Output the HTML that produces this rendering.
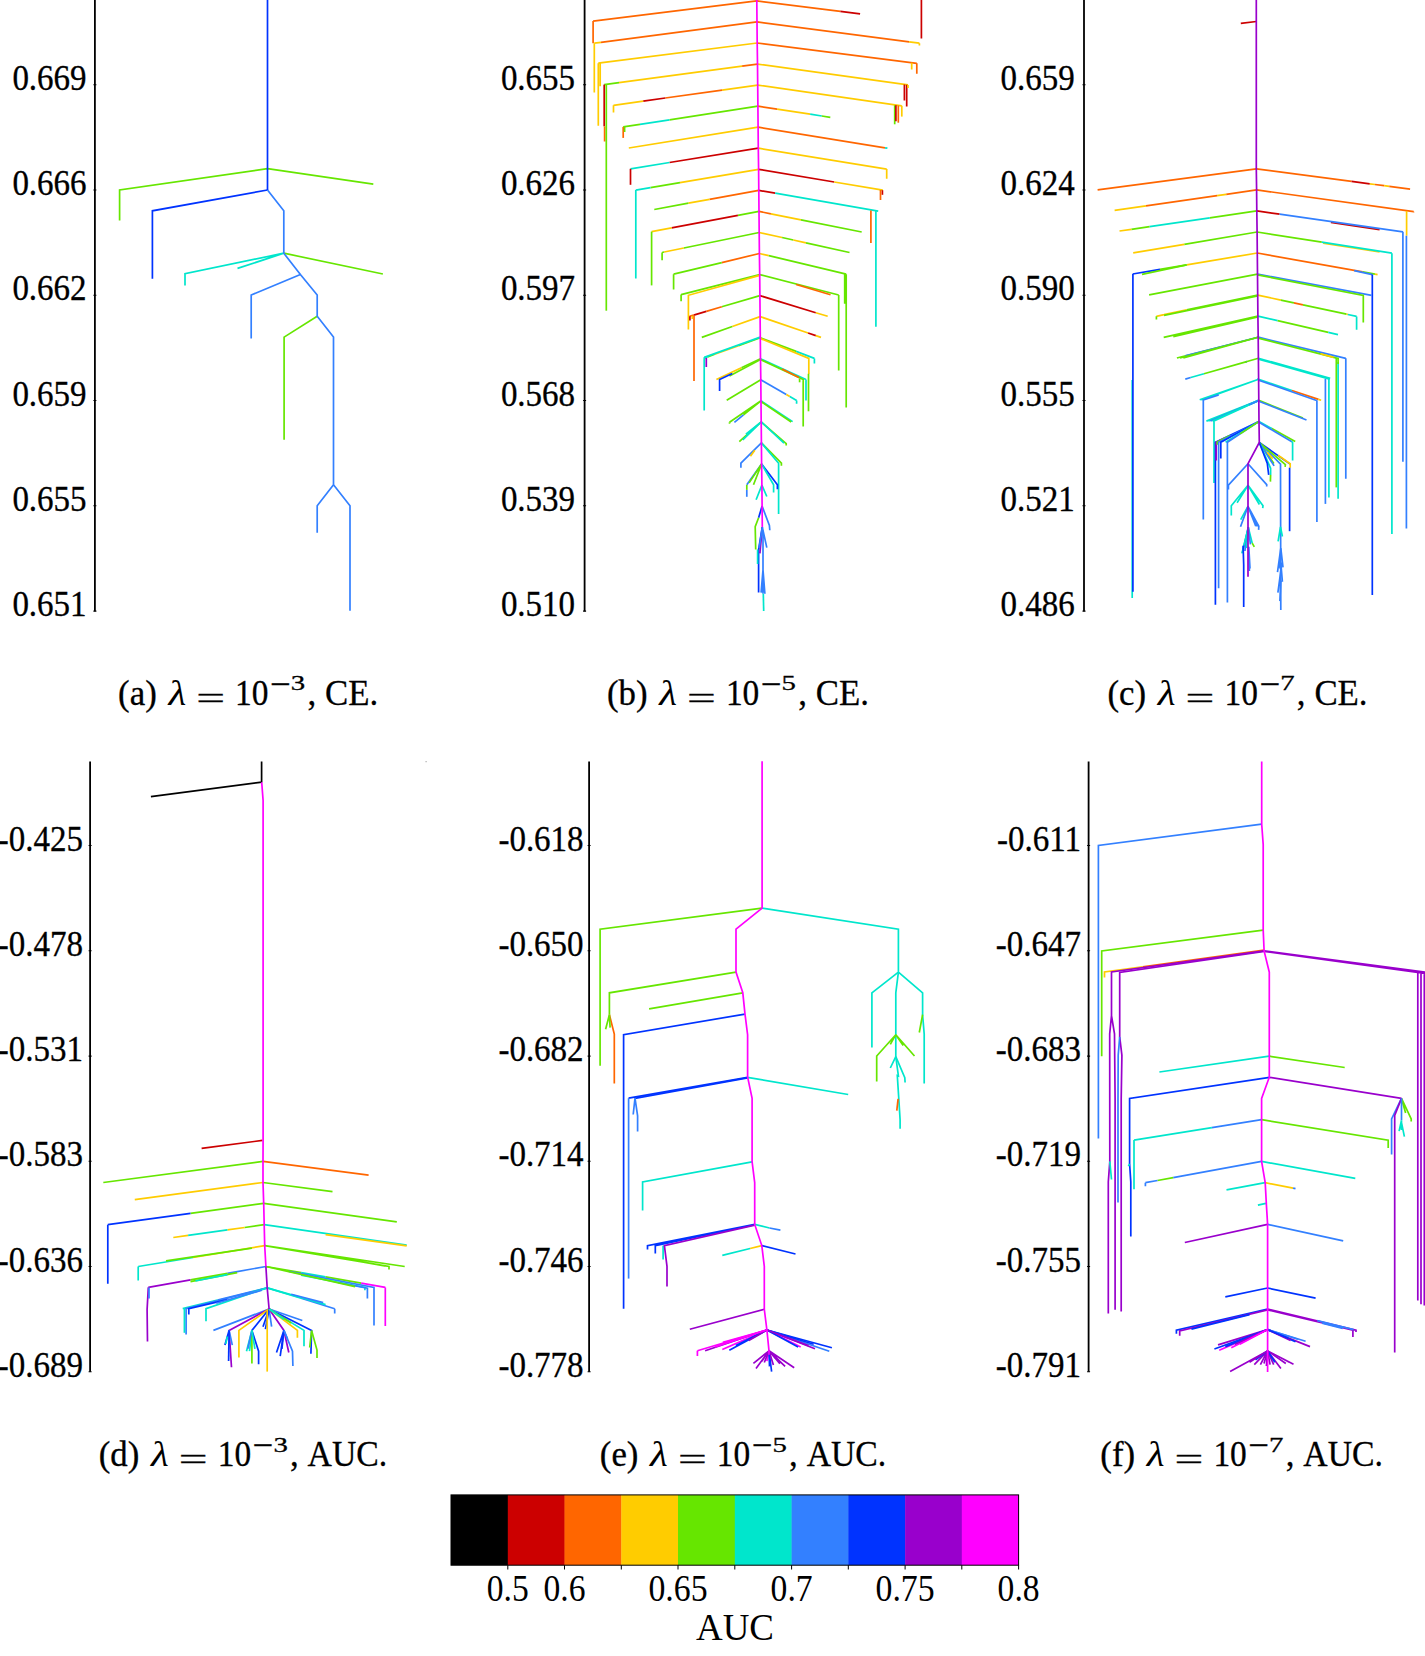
<!DOCTYPE html>
<html lang="en"><head><meta charset="utf-8"><title>Merge trees: CE and AUC</title>
<style>
html,body{margin:0;padding:0;background:#fff}
body{width:1425px;height:1656px;overflow:hidden;font-family:"Liberation Serif",serif}
svg{display:block}
text{font-family:"Liberation Serif",serif;fill:#000}
.t{font-size:33px;stroke:#000;stroke-width:.3px}
.u{font-size:34.8px;stroke:#000;stroke-width:.3px}
.it{font-style:italic}
</style></head><body>
<svg width="1425" height="1656" viewBox="0 0 1425 1656">
<rect width="1425" height="1656" fill="#fff"/>
<g fill="none" stroke-width="1.7" stroke-linejoin="miter" stroke-linecap="butt">
<path stroke="#66e600" d="M267.5 168.7 L119.6 190 L119.6 220.6M267.5 168.7 L373.3 184.1"/>
<path stroke="#0033ff" d="M267.5 190 L152.4 210.8 L152.4 278.7"/>
<path stroke="#00e6cc" d="M283.8 253.2 L185 273.7 L185 285.5M283.8 253.2 L237.5 268.4"/>
<path stroke="#66e600" d="M283.8 253.2 L382.9 274"/>
<path stroke="#3380ff" d="M300.4 274.5 L251.2 295 L251.2 338.5"/>
<path stroke="#66e600" d="M317.2 316.3 L284.1 337.1 L284.1 439.8"/>
<path stroke="#3380ff" d="M333.5 484.7 L317.2 505.8 L317.2 532.7M267.5 190 L283.8 210.8 L283.8 253.2 L300.4 274.5 L317.2 295 L317.2 316.3 L333.5 337.1 L333.5 484.7 L350 505.8 L350 610.7"/>
<path stroke="#0033ff" d="M267.5 0 L267.5 190"/>
<path stroke="#ff6600" d="M756.8 0.9 L593.1 21.1M593.1 21.1 L593.1 43.2M757 21.9 L601 42.3"/>
<path stroke="#ffcc00" d="M601 42.3 L594.3 43.2M594.3 43.2 L594.3 92.6M757.2 43 L598.3 63.2M598.3 63.2 L598.3 125.7M600.2 63.4 L600.2 86.3"/>
<path stroke="#ff6600" d="M757.5 64.1 L742.1 66.1"/>
<path stroke="#ffcc00" d="M742.1 66.1 L619 82.6"/>
<path stroke="#66e600" d="M619 82.6 L604.2 84.6"/>
<path stroke="#cc0000" d="M604.2 84.6 L604.2 126.3"/>
<path stroke="#ff6600" d="M604.6 126.3 L604.6 141.5"/>
<path stroke="#66e600" d="M606.3 84.8 L606.3 310.7"/>
<path stroke="#ffcc00" d="M757.7 85.1 L722.1 90.1"/>
<path stroke="#ff6600" d="M722.1 90.1 L665.3 98"/>
<path stroke="#cc0000" d="M665.3 98 L643.2 101.1"/>
<path stroke="#ffcc00" d="M643.2 101.1 L613.5 105.3M613.5 105.3 L613.5 112.6"/>
<path stroke="#66e600" d="M757.9 106.2 L669.5 119.8"/>
<path stroke="#00e6cc" d="M669.5 119.8 L640 124.3"/>
<path stroke="#66e600" d="M640 124.3 L623.2 126.9"/>
<path stroke="#ff6600" d="M623.2 126.9 L623.2 137.9"/>
<path stroke="#66e600" d="M624.6 126.9 L624.6 132"/>
<path stroke="#ffcc00" d="M758.1 127.2 L628.8 148"/>
<path stroke="#cc0000" d="M758.3 148.2 L669.5 162.5"/>
<path stroke="#00e6cc" d="M669.5 162.5 L630.5 168.8"/>
<path stroke="#cc0000" d="M630.5 168.8 L630.5 184.8"/>
<path stroke="#ffcc00" d="M758.6 169.3 L680 182.6"/>
<path stroke="#66e600" d="M680 182.6 L650.5 187.6"/>
<path stroke="#00e6cc" d="M650.5 187.6 L635.8 190.1M635.8 190.1 L635.8 278.4"/>
<path stroke="#ff6600" d="M758.8 190.4 L709.5 199.4"/>
<path stroke="#ffcc00" d="M709.5 199.4 L688.4 203.2"/>
<path stroke="#66e600" d="M688.4 203.2 L654.3 209.5M759 211.4 L737.9 215.4"/>
<path stroke="#cc0000" d="M737.9 215.4 L671.6 227.8"/>
<path stroke="#ffcc00" d="M671.6 227.8 L651.6 231.6"/>
<path stroke="#66e600" d="M651.6 231.6 L651.6 285.4"/>
<path stroke="#ff6600" d="M756.8 0.9 L840.4 11.4"/>
<path stroke="#cc0000" d="M840.4 11.4 L860.1 13.9M921.4 0 L921.4 38.6"/>
<path stroke="#ff6600" d="M757 21.9 L909.1 41.9"/>
<path stroke="#ffcc00" d="M909.1 41.9 L919.4 43.2M919.4 43.2 L919.4 45.6"/>
<path stroke="#ff6600" d="M757.2 43 L916.8 63.3M916.8 63.3 L916.8 73.8"/>
<path stroke="#ffcc00" d="M911.7 62.8 L911.7 69.5M757.5 64.1 L908 84.9"/>
<path stroke="#cc0000" d="M904.4 84.6 L904.4 100.4M906.7 84.8 L906.7 106.5"/>
<path stroke="#ffcc00" d="M908 84.9 L908 88M757.7 85.1 L901.8 105.8"/>
<path stroke="#66e600" d="M894.7 105.2 L894.7 124.3"/>
<path stroke="#cc0000" d="M895.9 105.3 L895.9 121.2"/>
<path stroke="#ff6600" d="M898.3 105.5 L898.3 122.7"/>
<path stroke="#ffcc00" d="M901.8 105.8 L901.8 116.6"/>
<path stroke="#ff6600" d="M757.9 106.2 L777.1 109.1"/>
<path stroke="#ffcc00" d="M777.1 109.1 L810.2 114.2"/>
<path stroke="#00e6cc" d="M810.2 114.2 L821.8 116"/>
<path stroke="#66e600" d="M821.8 116 L830.3 117.3"/>
<path stroke="#ff6600" d="M758.1 127.2 L885 147.8"/>
<path stroke="#00e6cc" d="M885 147.8 L887.4 148.2"/>
<path stroke="#ffcc00" d="M758.3 148.2 L886.7 169.1M886.7 169.1 L886.7 178.8"/>
<path stroke="#cc0000" d="M758.6 169.3 L834.2 182"/>
<path stroke="#ffcc00" d="M834.2 182 L882.8 190.2"/>
<path stroke="#cc0000" d="M882.4 190.2 L882.4 194.8"/>
<path stroke="#ff6600" d="M880.5 190 L880.5 200"/>
<path stroke="#cc0000" d="M758.8 190.4 L775.2 193.2"/>
<path stroke="#00e6cc" d="M775.2 193.2 L878.2 211.2"/>
<path stroke="#ff6600" d="M870.9 210.5 L870.9 242.9"/>
<path stroke="#00e6cc" d="M875.9 211 L875.9 326.8"/>
<path stroke="#ff6600" d="M759 211.4 L770.9 213.8"/>
<path stroke="#ffcc00" d="M770.9 213.8 L801 219.8"/>
<path stroke="#66e600" d="M801 219.8 L861.7 232M759.2 232.5 L683.9 248"/>
<path stroke="#ffcc00" d="M683.9 248 L664.2 252"/>
<path stroke="#66e600" d="M664.2 252 L662.1 252.5M662.1 252.5 L662.1 260.2"/>
<path stroke="#ff6600" d="M759.4 253.5 L721.8 262.6"/>
<path stroke="#66e600" d="M721.8 262.6 L673.6 274.2M673.6 274.2 L673.6 289.6M759.7 274.6 L681.1 294.6M681.1 294.6 L681.1 301.3"/>
<path stroke="#ffcc00" d="M759.7 275.4 L688.4 295.3 L688.4 329.6"/>
<path stroke="#66e600" d="M759.9 295.6 L721.8 306.8"/>
<path stroke="#ff6600" d="M721.8 306.8 L706.3 311.4"/>
<path stroke="#cc0000" d="M706.3 311.4 L693.7 315.1"/>
<path stroke="#ff6600" d="M693.7 315.1 L689.5 316.3"/>
<path stroke="#cc0000" d="M689.9 316.3 L689.9 320.5"/>
<path stroke="#ff6600" d="M694 315.6 L694 380.9"/>
<path stroke="#ffcc00" d="M692.3 315.8 L692.3 319M760.1 316.6 L732.3 326.5"/>
<path stroke="#66e600" d="M732.3 326.5 L701.8 337.4M760.3 337.7 L738.6 345.6"/>
<path stroke="#ffcc00" d="M738.6 345.6 L714.7 354.3"/>
<path stroke="#66e600" d="M714.7 354.3 L707.7 356.9"/>
<path stroke="#00e6cc" d="M707.7 356.9 L703.5 358.4M760.3 337.1 L704.2 357.4M704.2 358.4 L704.2 410.4"/>
<path stroke="#9900cc" d="M706.3 358 L706.3 367"/>
<path stroke="#66e600" d="M760.5 358.8 L741.4 367.7"/>
<path stroke="#ffcc00" d="M741.4 367.7 L732.3 372M732.3 372 L716.4 379.5"/>
<path stroke="#66e600" d="M760.5 359.6 L729.5 376"/>
<path stroke="#0033ff" d="M732.3 373.4 L719.6 379.5 L719.6 391.1"/>
<path stroke="#66e600" d="M760.8 379.8 L726.7 400.2M761 400.8 L729.5 422.3M761 400.8 L743.5 414.9"/>
<path stroke="#3380ff" d="M743.5 414.9 L734.4 422.3"/>
<path stroke="#66e600" d="M729.5 422.3 L729.5 423.7"/>
<path stroke="#ffcc00" d="M759.2 232.5 L782.1 237.5"/>
<path stroke="#66e600" d="M782.1 237.5 L793.3 240"/>
<path stroke="#ffcc00" d="M793.3 240 L806 242.8"/>
<path stroke="#66e600" d="M806 242.8 L849.5 252.5"/>
<path stroke="#ffcc00" d="M759.4 253.5 L768.8 255.7"/>
<path stroke="#66e600" d="M768.8 255.7 L846.2 274.2M846.2 274.2 L846.2 407.5M844.7 273.8 L844.7 303.7M759.7 274.6 L838.7 295M838.7 295 L838.7 370.6"/>
<path stroke="#ff6600" d="M796.1 284.5 L830.5 294.8"/>
<path stroke="#cc0000" d="M759.9 295.6 L815.8 312.7"/>
<path stroke="#ffcc00" d="M815.8 312.7 L827.7 316.3M760.1 316.6 L808.1 333"/>
<path stroke="#cc0000" d="M808.1 333 L815.8 335.6"/>
<path stroke="#ffcc00" d="M815.8 335.6 L821 337.4"/>
<path stroke="#66e600" d="M760.3 337.7 L796.1 351.4"/>
<path stroke="#00e6cc" d="M796.1 351.4 L814.4 358.4M814.4 358.4 L814.4 363.4"/>
<path stroke="#ffcc00" d="M760.3 338.5 L808.8 358.4 L808.8 373.9"/>
<path stroke="#66e600" d="M808.5 373.8 L808.5 411.3"/>
<path stroke="#00e6cc" d="M760.5 358.8 L806 379.5M806 379.5 L806 400.5"/>
<path stroke="#66e600" d="M760.5 359.6 L803.2 379.5 L803.2 426.5"/>
<path stroke="#ff6600" d="M782.1 368.9 L798.9 377.4"/>
<path stroke="#66e600" d="M799.6 378.6 L799.6 382.3"/>
<path stroke="#3380ff" d="M760.8 379.8 L786.3 394.6"/>
<path stroke="#ffcc00" d="M786.3 394.6 L789.8 396.6"/>
<path stroke="#00e6cc" d="M789.8 396.6 L796.6 400.5M796.6 400.5 L796.6 403.8M761 400.8 L792.6 421.6"/>
<path stroke="#66e600" d="M761 401.6 L791.2 422M761.2 421.9 L739.3 441.7"/>
<path stroke="#00e6cc" d="M761.2 421.9 L745.9 434.1M761.2 421.9 L742.8 439.8"/>
<path stroke="#66e600" d="M761.2 421.9 L786.2 443.6 L786.2 445.5"/>
<path stroke="#00e6cc" d="M761.2 421.9 L784 443.2"/>
<path stroke="#3380ff" d="M761.4 442.9 L740.9 463.2 L740.9 467.7"/>
<path stroke="#ffcc00" d="M754.8 450.3 L750.4 456.3"/>
<path stroke="#66e600" d="M761.4 442.9 L781.4 463.2 L781.4 465.8"/>
<path stroke="#00e6cc" d="M761.4 442.9 L778.6 463.2 L778.6 514"/>
<path stroke="#3380ff" d="M761.6 464 L746.8 484.8"/>
<path stroke="#66e600" d="M746.8 484.8 L746.8 489.9"/>
<path stroke="#3380ff" d="M746.8 489.9 L746.8 496.8"/>
<path stroke="#66e600" d="M761.6 464 L753.5 484.8M761.6 464 L749.1 482.9"/>
<path stroke="#0033ff" d="M761.6 464 L777.4 484.8 L777.4 489.2"/>
<path stroke="#00e6cc" d="M761.6 464 L773.6 484.8 L773.6 492.4M761.9 485.1 L756.1 499.8M761.9 485.1 L766.8 496.5"/>
<path stroke="#0033ff" d="M762.1 506.1 L758.6 517.8"/>
<path stroke="#66e600" d="M758.6 517.8 L755.2 526.6 L755.7 549.5"/>
<path stroke="#3380ff" d="M762.1 506.1 L769.4 525.4 L769.8 530.2"/>
<path stroke="#0033ff" d="M762.3 527.1 L758.6 549.5 L758.6 592.6"/>
<path stroke="#00e6cc" d="M757.6 549.5 L757.6 564"/>
<path stroke="#9900cc" d="M762.3 527.1 L759.9 553.3"/>
<path stroke="#3380ff" d="M762.3 527.1 L766.8 547.6M762.3 527.1 L759.2 548.2M763 569.7 L761.1 592.6M763 569.7 L764.9 593.8M763 569.7 L762.4 592.6M762.3 527.1 L763 536.8 L763 593.8"/>
<path stroke="#00e6cc" d="M763.3 593.8 L763.7 611"/>
<path stroke="#ff00ff" d="M756.8 0.9 L757 21.9 L757.2 43 L757.5 64.1 L757.7 85.1 L757.9 106.2 L758.1 127.2 L758.3 148.2 L758.6 169.3 L758.8 190.4 L759 211.4 L759.2 232.5 L759.4 253.5 L759.7 274.6 L759.9 295.6 L760.1 316.6 L760.3 337.7 L760.5 358.8 L760.8 379.8 L761 400.8 L761.2 421.9 L761.4 442.9 L761.6 464 L761.9 485.1 L762.1 506.1 L762.3 527.1M756.8 0 L756.8 1"/>
<path stroke="#cc0000" d="M1256.3 21.5 L1240.8 23.4"/>
<path stroke="#ff6600" d="M1256.4 168.8 L1097.6 189.8M1256.6 189.9 L1226.2 194.3"/>
<path stroke="#ffcc00" d="M1226.2 194.3 L1217.1 195.6"/>
<path stroke="#ff6600" d="M1217.1 195.6 L1146 205.9"/>
<path stroke="#ffcc00" d="M1146 205.9 L1114.6 210.4"/>
<path stroke="#66e600" d="M1256.8 210.9 L1209.8 217.8"/>
<path stroke="#00e6cc" d="M1209.8 217.8 L1149.6 226.6"/>
<path stroke="#66e600" d="M1149.6 226.6 L1131.4 229.3"/>
<path stroke="#ffcc00" d="M1131.4 229.3 L1119.5 231"/>
<path stroke="#66e600" d="M1257.1 232 L1184.3 244.3"/>
<path stroke="#ffcc00" d="M1184.3 244.3 L1133.2 252.9M1257.3 253 L1186.7 264.9"/>
<path stroke="#66e600" d="M1186.7 264.9 L1160 269.4"/>
<path stroke="#0033ff" d="M1160 269.4 L1132.7 274"/>
<path stroke="#66e600" d="M1186.7 264.9 L1142 274.4"/>
<path stroke="#00e6cc" d="M1132.2 380 L1132.2 598"/>
<path stroke="#0033ff" d="M1132.9 274 L1132.9 591.7"/>
<path stroke="#66e600" d="M1257.5 274.1 L1149.1 294.9M1257.7 295.1 L1186.7 309.9"/>
<path stroke="#ffcc00" d="M1186.7 309.9 L1164 314.7M1164 314.7 L1156.4 316.3"/>
<path stroke="#66e600" d="M1257.7 295.9 L1164 315.3M1156.4 316.3 L1156.4 319.4M1257.9 316.1 L1163.7 337.3M1257.9 316.9 L1173.3 336.7M1258.2 337.2 L1176.9 358"/>
<path stroke="#3380ff" d="M1258.2 337.2 L1185.3 355.7"/>
<path stroke="#66e600" d="M1258.2 337.2 L1180 358M1258.2 337.2 L1183.3 358M1258.4 358.2 L1245.3 362"/>
<path stroke="#3380ff" d="M1245.3 362 L1246.7 361.6"/>
<path stroke="#66e600" d="M1246.7 361.6 L1204 373.7"/>
<path stroke="#00e6cc" d="M1204 373.7 L1190.7 377.5"/>
<path stroke="#3380ff" d="M1190.7 377.5 L1185.3 379.1"/>
<path stroke="#00e6cc" d="M1258.6 379.3 L1199.7 399.7M1258.6 379.3 L1201 399.8M1258.6 379.3 L1202.2 399.8"/>
<path stroke="#3380ff" d="M1218.7 394.9 L1203.3 400 L1203.3 519.4"/>
<path stroke="#00e6cc" d="M1258.8 400.4 L1206.4 421.1M1258.8 400.4 L1208.5 421"/>
<path stroke="#3380ff" d="M1258.8 400.4 L1210.5 421"/>
<path stroke="#00e6cc" d="M1258.8 400.4 L1212.4 421M1258.8 400.4 L1214 421.1 L1214 482.9"/>
<path stroke="#3380ff" d="M1258.8 400.4 L1249.3 404.7"/>
<path stroke="#0033ff" d="M1259 421.4 L1215.4 442.3 L1215.4 604.7"/>
<path stroke="#9900cc" d="M1225 438.1 L1216.2 442.3 L1216.2 460.4"/>
<path stroke="#66e600" d="M1229.8 435.5 L1217.2 442.1 L1217.2 444.7"/>
<path stroke="#3380ff" d="M1259 421.4 L1218.6 442.3 L1218.6 588.2"/>
<path stroke="#0033ff" d="M1259 421.4 L1220.8 442.3 L1220.8 458.6"/>
<path stroke="#00e6cc" d="M1259 421.4 L1225.6 442.3"/>
<path stroke="#3380ff" d="M1259 421.4 L1227.4 442.3 L1227.4 602.4"/>
<path stroke="#66e600" d="M1259 421.4 L1240.1 433.9"/>
<path stroke="#ff6600" d="M1256.4 168.8 L1351.6 181.4"/>
<path stroke="#cc0000" d="M1351.6 181.4 L1369.8 183.9"/>
<path stroke="#ffcc00" d="M1369.8 183.9 L1375 184.5"/>
<path stroke="#ff6600" d="M1375 184.5 L1384.1 185.7"/>
<path stroke="#ffcc00" d="M1384.1 185.7 L1389.3 186.4"/>
<path stroke="#ff6600" d="M1389.3 186.4 L1410.1 189.2M1256.6 189.9 L1413.7 211.7M1413.5 211.7 L1413.5 212.6"/>
<path stroke="#ffcc00" d="M1406.6 211 L1406.6 235.7"/>
<path stroke="#3380ff" d="M1406.4 235.7 L1406.4 528.5"/>
<path stroke="#cc0000" d="M1330.9 222.4 L1379.6 229.7M1256.8 210.9 L1279.6 214.2"/>
<path stroke="#3380ff" d="M1279.6 214.2 L1402.9 231.8M1402.9 231.8 L1402.9 461.7"/>
<path stroke="#ffcc00" d="M1323.1 243.2 L1379.6 252"/>
<path stroke="#66e600" d="M1257.1 232 L1321.8 242.2"/>
<path stroke="#00e6cc" d="M1321.8 242.2 L1391.9 253.2M1391.9 253.2 L1391.9 534"/>
<path stroke="#ff6600" d="M1257.3 253 L1362.7 271.9"/>
<path stroke="#66e600" d="M1362.7 271.9 L1375 274.1"/>
<path stroke="#ffcc00" d="M1375 274.1 L1377.6 274.6"/>
<path stroke="#3380ff" d="M1354.2 270.7 L1372.4 274.6"/>
<path stroke="#0033ff" d="M1372.3 274.4 L1372.3 595"/>
<path stroke="#3380ff" d="M1257.5 274.1 L1371.6 295.4"/>
<path stroke="#66e600" d="M1257.5 274.9 L1363.3 295.4 L1363.3 322.4"/>
<path stroke="#ffcc00" d="M1257.7 295.1 L1280.9 300.1"/>
<path stroke="#66e600" d="M1280.9 300.1 L1293.9 302.9"/>
<path stroke="#ff6600" d="M1293.9 302.9 L1303 304.8"/>
<path stroke="#66e600" d="M1303 304.8 L1346.5 314.2"/>
<path stroke="#ffcc00" d="M1346.5 314.2 L1347.8 314.5"/>
<path stroke="#00e6cc" d="M1347.8 314.5 L1356.6 316.4M1356.6 316.4 L1356.6 329.8M1257.9 316.1 L1277.6 320.7"/>
<path stroke="#66e600" d="M1277.6 320.7 L1328.3 332.4"/>
<path stroke="#00e6cc" d="M1328.3 332.4 L1338 334.6"/>
<path stroke="#3380ff" d="M1258.2 337.2 L1345.8 358.3M1345.8 358.3 L1345.8 478.8"/>
<path stroke="#66e600" d="M1258.2 338.1 L1338.7 358.6"/>
<path stroke="#ffcc00" d="M1320.5 353.8 L1333.5 357.4"/>
<path stroke="#66e600" d="M1336.3 358 L1336.3 487.4"/>
<path stroke="#00e6cc" d="M1338.1 362 L1338.1 498.8"/>
<path stroke="#66e600" d="M1338.1 358 L1338.1 364"/>
<path stroke="#00e6cc" d="M1258.4 358.2 L1330.2 378.4M1258.4 359.1 L1329.6 379.1"/>
<path stroke="#3380ff" d="M1325.4 379 L1325.4 503.9"/>
<path stroke="#00e6cc" d="M1328.9 378.4 L1328.9 497.5M1258.6 379.3 L1291.9 390.5"/>
<path stroke="#ff6600" d="M1291.9 390.5 L1318.5 399.4"/>
<path stroke="#ffcc00" d="M1318.5 399.4 L1321.1 400.2"/>
<path stroke="#3380ff" d="M1258.6 380.2 L1316.6 400.5M1316.9 400.3 L1316.9 522.1"/>
<path stroke="#66e600" d="M1258.8 400.4 L1303 418"/>
<path stroke="#3380ff" d="M1258.8 401.2 L1306.5 420"/>
<path stroke="#00e6cc" d="M1259 421.4 L1271.8 428.5"/>
<path stroke="#66e600" d="M1271.8 428.5 L1295.2 441.4"/>
<path stroke="#3380ff" d="M1259 422.3 L1291.9 441.8"/>
<path stroke="#00e6cc" d="M1291.9 441.4 L1292.6 442.7 L1292.6 460.5"/>
<path stroke="#3380ff" d="M1259.3 442.5 L1280.5 464.1 L1280.8 610"/>
<path stroke="#0033ff" d="M1259.3 442.5 L1290.2 464.1"/>
<path stroke="#ffcc00" d="M1278.1 455.3 L1290.2 463.7 L1290.2 467.7"/>
<path stroke="#0033ff" d="M1289.6 467.7 L1289.6 531.2"/>
<path stroke="#66e600" d="M1259.3 442.5 L1285.4 464.7 L1285.1 466.8M1259.3 442.5 L1273.9 463.5"/>
<path stroke="#3380ff" d="M1259.3 442.5 L1274.1 465.9"/>
<path stroke="#00e6cc" d="M1259.3 442.5 L1270.6 468.3 L1270.6 474.9"/>
<path stroke="#66e600" d="M1270.6 474.9 L1270.4 481.6"/>
<path stroke="#0033ff" d="M1259.3 442.5 L1267.3 463.5 L1268.7 474.9"/>
<path stroke="#ffcc00" d="M1267.3 452.4 L1272.7 458.6"/>
<path stroke="#00e6cc" d="M1280.5 526.8 L1278.1 541.3M1280.5 526.8 L1282.4 536.5"/>
<path stroke="#3380ff" d="M1280.8 548 L1277.5 572.1M1280.8 548 L1283 567.3M1280.8 562.5 L1282.4 581.8M1280.8 570.9 L1277.9 592.6M1280.8 580.6 L1279.9 601.1M1280.8 548 L1279.9 568.5M1248 463.7 L1228.4 485.2 L1228.4 489.4M1248 463.7 L1266.7 484.6 L1266.7 486.4"/>
<path stroke="#00e6cc" d="M1248 485.2 L1231.3 505.7 L1231.3 515.4M1248 485.2 L1237.1 502.7M1248 485.2 L1263 505.7 L1262.7 508.1M1248 485.2 L1259.4 504.5M1248 506.3 L1240.7 519.6"/>
<path stroke="#3380ff" d="M1248 506.3 L1240.5 526.8M1248 506.3 L1258.8 526.2 L1258.6 529.9M1248 506.3 L1255.8 526.2M1248 506.3 L1257.4 526.5"/>
<path stroke="#0033ff" d="M1248.3 527.4 L1242.5 552.8"/>
<path stroke="#3380ff" d="M1248.3 527.4 L1244.9 551"/>
<path stroke="#00e6cc" d="M1248.3 527.4 L1241.9 553.4M1248.3 527.4 L1252.2 543.1"/>
<path stroke="#66e600" d="M1252.2 543.1 L1254.3 546.8"/>
<path stroke="#3380ff" d="M1248.3 527.4 L1250.4 544.4"/>
<path stroke="#00e6cc" d="M1248.3 527.4 L1246.7 548"/>
<path stroke="#0033ff" d="M1243.1 545.6 L1243.7 564.9 L1243.7 607"/>
<path stroke="#3380ff" d="M1248.8 546.8 L1249.4 570.9M1248.8 546.8 L1250 568.5"/>
<path stroke="#9900cc" d="M1256.3 0 L1256.3 168.8 L1256.6 189.9 L1256.8 210.9 L1257.1 232 L1257.3 253 L1257.5 274.1 L1257.7 295.1 L1257.9 316.1 L1258.2 337.2 L1258.4 358.2 L1258.6 379.3 L1258.8 400.4 L1259 421.4 L1259.3 442.5 L1248 463.7 L1248 576.8"/>
<path stroke="#000000" d="M261.6 761.6 L261.6 782.4M261.9 782.2 L150.9 796.7"/>
<path stroke="#cc0000" d="M262.5 1140.4 L201.6 1148.3"/>
<path stroke="#66e600" d="M263 1161.4 L103.3 1182.5"/>
<path stroke="#ffcc00" d="M263 1182.5 L134.8 1199.7"/>
<path stroke="#66e600" d="M263.7 1203.4 L190.5 1213.4"/>
<path stroke="#0033ff" d="M190.5 1213.4 L107.8 1224.7M107.8 1224.7 L107.8 1283.7"/>
<path stroke="#66e600" d="M264.2 1224.7 L244.6 1227.5"/>
<path stroke="#ffcc00" d="M244.6 1227.5 L227.4 1229.9"/>
<path stroke="#00e6cc" d="M227.4 1229.9 L188.1 1235.4"/>
<path stroke="#ffcc00" d="M188.1 1235.4 L173.3 1237.5M264.7 1245.6 L193 1257.5"/>
<path stroke="#00e6cc" d="M193 1257.5 L138.2 1266.5"/>
<path stroke="#66e600" d="M251.9 1248.1 L166 1260.8"/>
<path stroke="#00e6cc" d="M138.2 1266.5 L138.2 1280.5"/>
<path stroke="#3380ff" d="M265.9 1266.5 L227.4 1273.3"/>
<path stroke="#66e600" d="M227.4 1273.3 L190.5 1279.9"/>
<path stroke="#9900cc" d="M190.5 1279.9 L148.3 1287.4"/>
<path stroke="#66e600" d="M237.2 1272.6 L190.5 1281.7"/>
<path stroke="#00e6cc" d="M227.4 1274.6 L195.4 1281"/>
<path stroke="#9900cc" d="M148.3 1287.4 L147.1 1309.5 L147.5 1341.4"/>
<path stroke="#3380ff" d="M149 1287.6 L149 1298.4"/>
<path stroke="#00e6cc" d="M267.2 1287.9 L251.9 1291.6"/>
<path stroke="#3380ff" d="M251.9 1291.6 L217.5 1300.1"/>
<path stroke="#00e6cc" d="M217.5 1300.1 L182.7 1308.7"/>
<path stroke="#3380ff" d="M267.2 1287.9 L186.1 1308.7 L186.1 1334.5"/>
<path stroke="#00e6cc" d="M184.4 1308.7 L184.4 1332.8"/>
<path stroke="#0033ff" d="M227.4 1299.7 L188.8 1308.7 L188.8 1314.4"/>
<path stroke="#00e6cc" d="M267.2 1287.9 L206 1308.7 L206 1321.3"/>
<path stroke="#3380ff" d="M261.8 1290.3 L216.3 1303.3"/>
<path stroke="#ff6600" d="M263 1161.4 L368.6 1175.1"/>
<path stroke="#66e600" d="M263 1182.5 L332.5 1191.6M263.7 1203.4 L396.8 1221.8"/>
<path stroke="#00e6cc" d="M264.2 1224.7 L406.7 1245.1"/>
<path stroke="#ffcc00" d="M325.6 1234.6 L406.7 1245.9"/>
<path stroke="#66e600" d="M264.7 1245.6 L404.7 1266.5M264.7 1245.6 L389 1266.5 L389 1269.4M325.6 1255.4 L384.6 1265.8M265.9 1266.5 L301.1 1272.6"/>
<path stroke="#00e6cc" d="M301.1 1272.6 L325.6 1276.9"/>
<path stroke="#66e600" d="M325.6 1276.9 L361.2 1283.2"/>
<path stroke="#ff00ff" d="M361.2 1283.2 L385.3 1287.4M385.3 1287.4 L385.3 1325.9"/>
<path stroke="#3380ff" d="M288.8 1271.4 L374 1287.4 L374 1325.4"/>
<path stroke="#00e6cc" d="M301.1 1275.1 L364.9 1287.4 L364.9 1290.3"/>
<path stroke="#3380ff" d="M337.9 1282.5 L367.4 1288.1 L367.4 1298.4"/>
<path stroke="#66e600" d="M265.9 1266.5 L355.1 1286.6"/>
<path stroke="#00e6cc" d="M267.2 1287.9 L301.1 1298.3"/>
<path stroke="#3380ff" d="M301.1 1298.3 L334.7 1308.7M334.7 1308.7 L334.7 1313.6"/>
<path stroke="#00e6cc" d="M267.2 1287.9 L325.6 1304.6"/>
<path stroke="#3380ff" d="M291.2 1294.2 L323.2 1302.6M269.1 1309 L213.4 1330.4"/>
<path stroke="#9900cc" d="M269.1 1309 L229.1 1330.4 L231.5 1367.2"/>
<path stroke="#0033ff" d="M229.1 1330.4 L224.9 1345.1"/>
<path stroke="#3380ff" d="M229.1 1330.4 L232.3 1345.1"/>
<path stroke="#0033ff" d="M229.1 1330.4 L228.6 1361.1"/>
<path stroke="#00e6cc" d="M227.4 1336.5 L225.7 1343.9"/>
<path stroke="#ffcc00" d="M269.1 1309 L238.9 1330.4 L238.9 1357.4"/>
<path stroke="#0033ff" d="M269.1 1309 L251.9 1330.4 L258.6 1351.2 L258.6 1364.2"/>
<path stroke="#00e6cc" d="M251.9 1330.4 L246.5 1351.2M251.9 1330.4 L249.5 1351.2"/>
<path stroke="#66e600" d="M251.9 1330.4 L251.9 1363.5"/>
<path stroke="#3380ff" d="M251.9 1330.4 L247.8 1348.8"/>
<path stroke="#00e6cc" d="M251.9 1330.4 L254.9 1348.8"/>
<path stroke="#0033ff" d="M269.1 1309 L263 1326.7"/>
<path stroke="#3380ff" d="M269.1 1309 L271.6 1326.7"/>
<path stroke="#0033ff" d="M269.1 1309 L265.4 1329.1"/>
<path stroke="#9900cc" d="M269.1 1309 L283.9 1330.4 L288.8 1352.5"/>
<path stroke="#0033ff" d="M283.9 1330.4 L276.5 1352.5M283.9 1330.4 L280.2 1356.1"/>
<path stroke="#3380ff" d="M283.9 1330.4 L292.5 1351.2 L292.9 1366"/>
<path stroke="#0033ff" d="M283.9 1330.4 L281.9 1348.8"/>
<path stroke="#3380ff" d="M283.9 1330.4 L287.5 1338.9"/>
<path stroke="#ffcc00" d="M269.1 1309 L297.4 1330.4 L297.4 1337.7"/>
<path stroke="#00e6cc" d="M269.1 1309 L304 1330.4 L304 1346.3"/>
<path stroke="#0033ff" d="M269.1 1309 L311.6 1330.4 L310.9 1353.7"/>
<path stroke="#66e600" d="M311.6 1330.4 L317 1350 L317 1358.1M311.6 1330.4 L309.7 1347.5"/>
<path stroke="#3380ff" d="M269.1 1309 L302.3 1320.5"/>
<path stroke="#66e600" d="M269.1 1309 L291.2 1323"/>
<path stroke="#00e6cc" d="M269.1 1309 L283.9 1319.3"/>
<path stroke="#ffcc00" d="M267.2 1309.5 L267.2 1371.6"/>
<path stroke="#ff00ff" d="M261.7 782.2 L263.1 800.4 L263.1 1140 L263 1161.4 L263 1182.5 L263.7 1203.4 L264.2 1224.7 L264.7 1245.6 L265.9 1266.5"/>
<path stroke="#9900cc" d="M265.9 1266.5 L267.2 1287.9 L269.1 1309"/>
<path stroke="#66e600" d="M762.1 908.2 L600.1 929.2 L600.1 1065.7"/>
<path stroke="#00e6cc" d="M762.1 908.2 L898.4 929.2 L898.4 972.1M898.4 972.1 L871.9 992.8 L871.9 1047.6M898.4 972.1 L922.6 992.8 L922.6 1014.7 L924.2 1034.1 L924.2 1083.4"/>
<path stroke="#66e600" d="M922.6 1014.7 L919.3 1032.5"/>
<path stroke="#00e6cc" d="M898.4 972.1 L895.8 992.8 L895.8 1056.7 L898.4 1076 L897.3 1075.6 L898.8 1098.9 L900.1 1119.7 L900.1 1128.8"/>
<path stroke="#66e600" d="M895.8 1034.7 L876.7 1056 L876.7 1081.5M895.8 1034.7 L914.5 1056M895.8 1034.7 L890.3 1044.4M895.8 1034.7 L903.2 1045.4"/>
<path stroke="#00e6cc" d="M895.8 1056.7 L890.3 1068M895.8 1056.7 L904.8 1077.7 L905.1 1082.5"/>
<path stroke="#ff6600" d="M898.1 1098.9 L896.8 1110.6"/>
<path stroke="#66e600" d="M736 972.1 L609.4 992.8 L609.4 1014.7"/>
<path stroke="#ff6600" d="M609.4 1014.7 L614.3 1034.1 L614.3 1083.4"/>
<path stroke="#66e600" d="M609.4 1014.7 L605.6 1029.2M609.4 1014.7 L610.1 1027.6M742.8 992.8 L649.1 1008.9"/>
<path stroke="#0033ff" d="M745 1014.1 L623.6 1034.7 L623.6 1308.7M747.5 1077.4 L628.6 1098.2"/>
<path stroke="#3380ff" d="M628.6 1098.2 L628.6 1278.6"/>
<path stroke="#0033ff" d="M747.5 1077.8 L635 1098.4"/>
<path stroke="#3380ff" d="M635 1098.2 L633.2 1114.5M635 1098.2 L637.6 1115.8 L637.6 1131.4"/>
<path stroke="#00e6cc" d="M747.5 1077.4 L848.2 1094.5M752.1 1161.8 L642.6 1182 L642.6 1210.6"/>
<path stroke="#0033ff" d="M754.7 1224.4 L647.5 1245.6 L647.5 1249.5M754.7 1224.7 L655.3 1245.6 L655.3 1253.4"/>
<path stroke="#00e6cc" d="M663.1 1245.6 L663.1 1259.4"/>
<path stroke="#9900cc" d="M754.7 1225.1 L664.4 1245.6 L667 1266.4 L667 1286.4"/>
<path stroke="#00e6cc" d="M754.7 1224.4 L769.5 1228"/>
<path stroke="#3380ff" d="M769.5 1228 L780.4 1230.1"/>
<path stroke="#ffcc00" d="M761.8 1245.6 L750.1 1248.5"/>
<path stroke="#00e6cc" d="M750.1 1248.5 L722.3 1255.3"/>
<path stroke="#0033ff" d="M761.8 1245.6 L795.5 1254"/>
<path stroke="#9900cc" d="M764.3 1309.3 L689.8 1329.3"/>
<path stroke="#ff00ff" d="M766.9 1330 L697.4 1350.8"/>
<path stroke="#9900cc" d="M766.9 1330 L705.1 1350.8"/>
<path stroke="#ff00ff" d="M766.9 1330 L722.3 1349.5"/>
<path stroke="#0033ff" d="M766.9 1330 L729.3 1350.3"/>
<path stroke="#ff00ff" d="M766.9 1330 L722.8 1342.2"/>
<path stroke="#0033ff" d="M766.9 1330 L735.8 1345.6"/>
<path stroke="#9900cc" d="M766.9 1330 L748.8 1340.4"/>
<path stroke="#ff00ff" d="M766.9 1330 L715 1346.9M697.4 1350.8 L697.4 1356"/>
<path stroke="#0033ff" d="M766.9 1330 L831.9 1347.7"/>
<path stroke="#3380ff" d="M766.9 1330 L829.3 1351.3"/>
<path stroke="#9900cc" d="M766.9 1330 L815 1348.7"/>
<path stroke="#ff00ff" d="M766.9 1330 L800.7 1346.9"/>
<path stroke="#0033ff" d="M766.9 1330 L798.1 1346.9M766.9 1330 L813.7 1344.3"/>
<path stroke="#9900cc" d="M766.9 1330 L808.5 1345.6M769 1350.8 L753.4 1363.3M769 1350.8 L756 1368.5M769 1350.8 L761.8 1361.2M769 1350.8 L794.2 1367.7M769 1350.8 L785.1 1366.4M769 1350.8 L779.9 1363.8"/>
<path stroke="#0033ff" d="M769 1350.8 L771.6 1371.6"/>
<path stroke="#ff00ff" d="M769 1350.8 L766.9 1361.2"/>
<path stroke="#9900cc" d="M769 1350.8 L773.4 1365.1M769 1350.8 L764.3 1362.5"/>
<path stroke="#0033ff" d="M769 1350.8 L769.5 1366.4"/>
<path stroke="#9900cc" d="M769 1350.8 L776 1358.6"/>
<path stroke="#ff00ff" d="M762.1 761.3 L762.1 908.2 L736 929.2 L736 972.1 L742.8 992.8 L745 1014.1 L747.6 1034.7 L747.6 1077 L752.1 1098.4 L752.1 1161.8 L754.7 1182.6 L754.7 1224.4 L761.8 1245.6 L764.3 1266.4 L764.3 1309.3 L766.9 1330 L769 1350.8 L769 1354.7"/>
<path stroke="#3380ff" d="M1261.7 824.2 L1098.4 845.5 L1098.4 1138.4"/>
<path stroke="#66e600" d="M1263.2 930.1 L1101.7 950.9 L1101.7 1056.2"/>
<path stroke="#ff6600" d="M1264.1 950.1 L1142.6 966.9"/>
<path stroke="#ffcc00" d="M1142.6 966.9 L1104.5 971.9 L1104.5 977.4"/>
<path stroke="#9900cc" d="M1264.1 950.9 L1111.5 971.9 L1111.5 1015.6 L1109.7 1033.9 L1109.8 1161.4 L1108.3 1181.9 L1108.3 1313.4M1111.5 1015.6 L1114.5 1033.9 L1115.1 1098.4 L1115.1 1309.8"/>
<path stroke="#00e6cc" d="M1109.8 1161.4 L1111.5 1179.5"/>
<path stroke="#9900cc" d="M1264.1 951.3 L1119.7 972.4 L1119.7 1036.9 L1121.9 1055.3 L1121.2 1098.4 L1121.2 1311.5"/>
<path stroke="#3380ff" d="M1119.7 1036.9 L1118.2 1055.3 L1118 1098.4 L1118 1202.5"/>
<path stroke="#9900cc" d="M1264.1 950.9 L1425 972M1264.1 951.3 L1425 973.5M1417.8 971.5 L1417.8 1300.6M1421 972 L1421 1304.2M1424.3 972.3 L1424.3 1305.4"/>
<path stroke="#00e6cc" d="M1269.3 1056.2 L1159.4 1072"/>
<path stroke="#66e600" d="M1269.3 1056.2 L1344.7 1067.5"/>
<path stroke="#0033ff" d="M1269.6 1077.4 L1129.6 1098.4 L1129.6 1163.8 L1130.8 1181.9 L1130.8 1236.4"/>
<path stroke="#00e6cc" d="M1129.6 1163.8 L1128.4 1166.2"/>
<path stroke="#9900cc" d="M1269.6 1077.4 L1401.5 1098.4"/>
<path stroke="#66e600" d="M1401.5 1098.4 L1411.2 1119 L1411.2 1121.4M1401.5 1098.4 L1405.6 1112.9"/>
<path stroke="#3380ff" d="M1401.5 1098.4 L1391.6 1119 L1391.6 1154.6"/>
<path stroke="#9900cc" d="M1401.5 1098.4 L1394.7 1115.4 L1394.7 1352.6"/>
<path stroke="#3380ff" d="M1401.5 1098.4 L1401.5 1120.2"/>
<path stroke="#00e6cc" d="M1401.5 1120.2 L1401.5 1129.9M1401.5 1120.2 L1399.1 1131.1M1401.5 1122.6 L1404.4 1136.7"/>
<path stroke="#3380ff" d="M1261.6 1119.7 L1211.9 1127.6"/>
<path stroke="#00e6cc" d="M1211.9 1127.6 L1134 1140.1M1134 1140 L1134 1189.2"/>
<path stroke="#66e600" d="M1261.6 1119.7 L1388.2 1140.1 L1388.2 1148.1"/>
<path stroke="#3380ff" d="M1261.6 1161.4 L1173.2 1177.6"/>
<path stroke="#66e600" d="M1173.2 1177.6 L1157.5 1180.5"/>
<path stroke="#3380ff" d="M1157.5 1180.5 L1145.4 1182.7M1145.4 1182.7 L1145.4 1186.3"/>
<path stroke="#00e6cc" d="M1261.6 1161.4 L1355.3 1178.3M1265.2 1182.7 L1226.5 1189.9"/>
<path stroke="#ffcc00" d="M1265.2 1182.7 L1293.1 1188.2"/>
<path stroke="#3380ff" d="M1293.1 1188.2 L1295.5 1188.7"/>
<path stroke="#00e6cc" d="M1265.9 1203.3 L1257.9 1205.2"/>
<path stroke="#9900cc" d="M1267.6 1224.3 L1184.8 1242.5"/>
<path stroke="#3380ff" d="M1267.6 1224.3 L1343.2 1240.8"/>
<path stroke="#0033ff" d="M1267.6 1288 L1225.3 1296.9M1267.6 1288 L1315.6 1298.2M1267.6 1309.1 L1176.4 1330.1 L1176.4 1333.7"/>
<path stroke="#9900cc" d="M1267.6 1309.9 L1179.7 1330.8 L1179.7 1335.7"/>
<path stroke="#0033ff" d="M1249.5 1314.6 L1191.4 1329.1"/>
<path stroke="#9900cc" d="M1267.6 1309.1 L1356 1330.1 L1356 1332.1M1267.6 1309.9 L1352.9 1330.1 L1352.9 1336.9"/>
<path stroke="#3380ff" d="M1317.3 1320.7 L1353.6 1329.6M1322.1 1323.1 L1342.7 1328.4"/>
<path stroke="#9900cc" d="M1267.6 1329.6 L1218 1344.9"/>
<path stroke="#0033ff" d="M1267.6 1329.6 L1214.4 1349"/>
<path stroke="#ff00ff" d="M1267.6 1329.6 L1219.2 1350.2M1267.6 1329.6 L1231.3 1347.8"/>
<path stroke="#0033ff" d="M1267.6 1329.6 L1225.3 1346.6"/>
<path stroke="#9900cc" d="M1267.6 1329.6 L1234.9 1344.2"/>
<path stroke="#ff00ff" d="M1267.6 1329.6 L1239.8 1344.2"/>
<path stroke="#3380ff" d="M1267.6 1329.6 L1305.6 1341.3"/>
<path stroke="#9900cc" d="M1267.6 1329.6 L1310 1346.6"/>
<path stroke="#0033ff" d="M1267.6 1329.6 L1295.5 1341.7"/>
<path stroke="#3380ff" d="M1267.6 1329.6 L1297.9 1339.3"/>
<path stroke="#9900cc" d="M1267.6 1329.6 L1290.6 1340.5"/>
<path stroke="#0033ff" d="M1267.6 1329.6 L1288.2 1338.1"/>
<path stroke="#9900cc" d="M1267.6 1350.9 L1230.1 1371.5M1267.6 1350.9 L1254.3 1364.7M1267.6 1350.9 L1260.4 1364.7M1267.6 1350.9 L1266.4 1366M1267.6 1350.9 L1273.7 1364.7M1267.6 1350.9 L1280.9 1368.4M1267.6 1350.9 L1289.4 1362.3M1267.6 1350.9 L1293.5 1364.3"/>
<path stroke="#0033ff" d="M1267.6 1350.9 L1255.5 1359.9"/>
<path stroke="#9900cc" d="M1267.6 1350.9 L1249.5 1362.3M1267.6 1350.9 L1285.8 1363.5"/>
<path stroke="#0033ff" d="M1267.6 1350.9 L1274.9 1362.3"/>
<path stroke="#9900cc" d="M1267.6 1350.9 L1270.1 1364.7M1267.6 1350.9 L1264 1363.5"/>
<path stroke="#ff00ff" d="M1261.7 761.6 L1261.7 824.2 L1263.2 844.6 L1263.2 930.1 L1264.1 950.9 L1269.3 972.2 L1269.3 1077.2 L1261.6 1098.4 L1261.6 1161.4 L1265.2 1182.7 L1266.4 1204.9 L1267.6 1224.3 L1267.6 1372"/>
</g>
<path d="M94.9 0 V611.2" stroke="#000" stroke-width="1.8" fill="none"/>
<path d="M93.4 84.7h3M93.4 190h3M93.4 295.3h3M93.4 400.5h3M93.4 505.8h3M93.4 611.1h3" stroke="#000" stroke-width="1.1" fill="none"/>
<text class="t" text-anchor="end" transform="translate(86.6 89.7) scale(1 1.08)">0.669</text>
<text class="t" text-anchor="end" transform="translate(86.6 195) scale(1 1.08)">0.666</text>
<text class="t" text-anchor="end" transform="translate(86.6 300.3) scale(1 1.08)">0.662</text>
<text class="t" text-anchor="end" transform="translate(86.6 405.5) scale(1 1.08)">0.659</text>
<text class="t" text-anchor="end" transform="translate(86.6 510.8) scale(1 1.08)">0.655</text>
<text class="t" text-anchor="end" transform="translate(86.6 616.1) scale(1 1.08)">0.651</text>
<path d="M584.6 0 V611.2" stroke="#000" stroke-width="1.8" fill="none"/>
<path d="M583.1 84.7h3M583.1 190h3M583.1 295.3h3M583.1 400.5h3M583.1 505.8h3M583.1 611.1h3" stroke="#000" stroke-width="1.1" fill="none"/>
<text class="t" text-anchor="end" transform="translate(575.1 89.7) scale(1 1.08)">0.655</text>
<text class="t" text-anchor="end" transform="translate(575.1 195) scale(1 1.08)">0.626</text>
<text class="t" text-anchor="end" transform="translate(575.1 300.3) scale(1 1.08)">0.597</text>
<text class="t" text-anchor="end" transform="translate(575.1 405.5) scale(1 1.08)">0.568</text>
<text class="t" text-anchor="end" transform="translate(575.1 510.8) scale(1 1.08)">0.539</text>
<text class="t" text-anchor="end" transform="translate(575.1 616.1) scale(1 1.08)">0.510</text>
<path d="M1084 0 V611.2" stroke="#000" stroke-width="1.8" fill="none"/>
<path d="M1082.5 84.7h3M1082.5 190h3M1082.5 295.3h3M1082.5 400.5h3M1082.5 505.8h3M1082.5 611.1h3" stroke="#000" stroke-width="1.1" fill="none"/>
<text class="t" text-anchor="end" transform="translate(1074.7 89.7) scale(1 1.08)">0.659</text>
<text class="t" text-anchor="end" transform="translate(1074.7 195) scale(1 1.08)">0.624</text>
<text class="t" text-anchor="end" transform="translate(1074.7 300.3) scale(1 1.08)">0.590</text>
<text class="t" text-anchor="end" transform="translate(1074.7 405.5) scale(1 1.08)">0.555</text>
<text class="t" text-anchor="end" transform="translate(1074.7 510.8) scale(1 1.08)">0.521</text>
<text class="t" text-anchor="end" transform="translate(1074.7 616.1) scale(1 1.08)">0.486</text>
<path d="M90.1 761.6 V1371.8" stroke="#000" stroke-width="1.8" fill="none"/>
<path d="M88.6 845.5h3M88.6 950.8h3M88.6 1056.1h3M88.6 1161.3h3M88.6 1266.5h3M88.6 1371.7h3" stroke="#000" stroke-width="1.1" fill="none"/>
<text class="t" text-anchor="end" transform="translate(83 850.5) scale(1 1.08)">-0.425</text>
<text class="t" text-anchor="end" transform="translate(83 955.8) scale(1 1.08)">-0.478</text>
<text class="t" text-anchor="end" transform="translate(83 1061.1) scale(1 1.08)">-0.531</text>
<text class="t" text-anchor="end" transform="translate(83 1166.3) scale(1 1.08)">-0.583</text>
<text class="t" text-anchor="end" transform="translate(83 1271.5) scale(1 1.08)">-0.636</text>
<text class="t" text-anchor="end" transform="translate(83 1376.7) scale(1 1.08)">-0.689</text>
<path d="M589.1 761.6 V1371.8" stroke="#000" stroke-width="1.8" fill="none"/>
<path d="M587.6 845.5h3M587.6 950.8h3M587.6 1056.1h3M587.6 1161.3h3M587.6 1266.5h3M587.6 1371.7h3" stroke="#000" stroke-width="1.1" fill="none"/>
<text class="t" text-anchor="end" transform="translate(583.6 850.5) scale(1 1.08)">-0.618</text>
<text class="t" text-anchor="end" transform="translate(583.6 955.8) scale(1 1.08)">-0.650</text>
<text class="t" text-anchor="end" transform="translate(583.6 1061.1) scale(1 1.08)">-0.682</text>
<text class="t" text-anchor="end" transform="translate(583.6 1166.3) scale(1 1.08)">-0.714</text>
<text class="t" text-anchor="end" transform="translate(583.6 1271.5) scale(1 1.08)">-0.746</text>
<text class="t" text-anchor="end" transform="translate(583.6 1376.7) scale(1 1.08)">-0.778</text>
<path d="M1088.6 761.6 V1371.8" stroke="#000" stroke-width="1.8" fill="none"/>
<path d="M1087.1 845.5h3M1087.1 950.8h3M1087.1 1056.1h3M1087.1 1161.3h3M1087.1 1266.5h3M1087.1 1371.7h3" stroke="#000" stroke-width="1.1" fill="none"/>
<text class="t" text-anchor="end" transform="translate(1081 850.5) scale(1 1.08)">-0.611</text>
<text class="t" text-anchor="end" transform="translate(1081 955.8) scale(1 1.08)">-0.647</text>
<text class="t" text-anchor="end" transform="translate(1081 1061.1) scale(1 1.08)">-0.683</text>
<text class="t" text-anchor="end" transform="translate(1081 1166.3) scale(1 1.08)">-0.719</text>
<text class="t" text-anchor="end" transform="translate(1081 1271.5) scale(1 1.08)">-0.755</text>
<text class="t" text-anchor="end" transform="translate(1081 1376.7) scale(1 1.08)">-0.791</text>
<text class="u" x="118.1" y="704.9">(a)</text><text class="u it" style="stroke-width:0" transform="translate(168.4 704.9) scale(1.18 1.02)">λ</text><text class="u" transform="translate(196.2 709) scale(1.47 0.93)">=</text><text class="u" transform="translate(235.1 704.9) scale(0.96 1.02)">10</text><text class="u" transform="translate(270 695.8) scale(1.06 1)">−</text><text class="u" style="font-size:21.8px" transform="translate(290.8 690.3) scale(1.32 1)">3</text><text class="u" x="307.4" y="704.9">,</text><text class="u" x="325" y="704.9">CE.</text>
<text class="u" x="606.9" y="704.9">(b)</text><text class="u it" style="stroke-width:0" transform="translate(659.2 704.9) scale(1.18 1.02)">λ</text><text class="u" transform="translate(687 709) scale(1.47 0.93)">=</text><text class="u" transform="translate(725.9 704.9) scale(0.96 1.02)">10</text><text class="u" transform="translate(760.8 695.8) scale(1.06 1)">−</text><text class="u" style="font-size:21.8px" transform="translate(781.6 690.3) scale(1.32 1)">5</text><text class="u" x="798.2" y="704.9">,</text><text class="u" x="815.8" y="704.9">CE.</text>
<text class="u" x="1107.5" y="704.9">(c)</text><text class="u it" style="stroke-width:0" transform="translate(1157.8 704.9) scale(1.18 1.02)">λ</text><text class="u" transform="translate(1185.6 709) scale(1.47 0.93)">=</text><text class="u" transform="translate(1224.5 704.9) scale(0.96 1.02)">10</text><text class="u" transform="translate(1259.4 695.8) scale(1.06 1)">−</text><text class="u" style="font-size:21.8px" transform="translate(1280.2 690.3) scale(1.32 1)">7</text><text class="u" x="1296.8" y="704.9">,</text><text class="u" x="1314.4" y="704.9">CE.</text>
<text class="u" x="98.7" y="1466.2">(d)</text><text class="u it" style="stroke-width:0" transform="translate(151 1466.2) scale(1.18 1.02)">λ</text><text class="u" transform="translate(178.8 1470.3) scale(1.47 0.93)">=</text><text class="u" transform="translate(217.7 1466.2) scale(0.96 1.02)">10</text><text class="u" transform="translate(252.6 1457.1) scale(1.06 1)">−</text><text class="u" style="font-size:21.8px" transform="translate(273.4 1451.6) scale(1.32 1)">3</text><text class="u" x="289.9" y="1466.2">,</text><text class="u" x="307.6" y="1466.2" textLength="79.6" lengthAdjust="spacingAndGlyphs">AUC.</text>
<text class="u" x="599.8" y="1466.2">(e)</text><text class="u it" style="stroke-width:0" transform="translate(650.1 1466.2) scale(1.18 1.02)">λ</text><text class="u" transform="translate(677.9 1470.3) scale(1.47 0.93)">=</text><text class="u" transform="translate(716.8 1466.2) scale(0.96 1.02)">10</text><text class="u" transform="translate(751.7 1457.1) scale(1.06 1)">−</text><text class="u" style="font-size:21.8px" transform="translate(772.5 1451.6) scale(1.32 1)">5</text><text class="u" x="789.1" y="1466.2">,</text><text class="u" x="806.7" y="1466.2" textLength="79.6" lengthAdjust="spacingAndGlyphs">AUC.</text>
<text class="u" x="1100.3" y="1466.2">(f)</text><text class="u it" style="stroke-width:0" transform="translate(1146.7 1466.2) scale(1.18 1.02)">λ</text><text class="u" transform="translate(1174.5 1470.3) scale(1.47 0.93)">=</text><text class="u" transform="translate(1213.4 1466.2) scale(0.96 1.02)">10</text><text class="u" transform="translate(1248.3 1457.1) scale(1.06 1)">−</text><text class="u" style="font-size:21.8px" transform="translate(1269.1 1451.6) scale(1.32 1)">7</text><text class="u" x="1285.7" y="1466.2">,</text><text class="u" x="1303.3" y="1466.2" textLength="79.6" lengthAdjust="spacingAndGlyphs">AUC.</text>
<rect x="451" y="1494.9" width="57.1" height="70.3" fill="#000000"/>
<rect x="507.8" y="1494.9" width="57.1" height="70.3" fill="#cc0000"/>
<rect x="564.5" y="1494.9" width="57.1" height="70.3" fill="#ff6600"/>
<rect x="621.3" y="1494.9" width="57.1" height="70.3" fill="#ffcc00"/>
<rect x="678" y="1494.9" width="57.1" height="70.3" fill="#66e600"/>
<rect x="734.8" y="1494.9" width="57.1" height="70.3" fill="#00e6cc"/>
<rect x="791.6" y="1494.9" width="57.1" height="70.3" fill="#3380ff"/>
<rect x="848.3" y="1494.9" width="57.1" height="70.3" fill="#0033ff"/>
<rect x="905.1" y="1494.9" width="57.1" height="70.3" fill="#9900cc"/>
<rect x="961.8" y="1494.9" width="57.1" height="70.3" fill="#ff00ff"/>
<rect x="451" y="1494.9" width="567.6" height="70.3" fill="none" stroke="#000" stroke-width="1"/>
<path d="M507.8 1565.2v4.3M564.5 1565.2v4.3M621.3 1565.2v4.3M678 1565.2v4.3M734.8 1565.2v4.3M791.6 1565.2v4.3M848.3 1565.2v4.3M905.1 1565.2v4.3M961.8 1565.2v4.3M1018.6 1565.2v4.3" stroke="#000" stroke-width="1" fill="none"/>
<text x="507.8" y="1601.2" font-size="37" text-anchor="middle" textLength="42" lengthAdjust="spacingAndGlyphs">0.5</text>
<text x="564.5" y="1601.2" font-size="37" text-anchor="middle" textLength="42" lengthAdjust="spacingAndGlyphs">0.6</text>
<text x="678" y="1601.2" font-size="37" text-anchor="middle" textLength="59.2" lengthAdjust="spacingAndGlyphs">0.65</text>
<text x="791.6" y="1601.2" font-size="37" text-anchor="middle" textLength="42" lengthAdjust="spacingAndGlyphs">0.7</text>
<text x="905.1" y="1601.2" font-size="37" text-anchor="middle" textLength="59.2" lengthAdjust="spacingAndGlyphs">0.75</text>
<text x="1018.6" y="1601.2" font-size="37" text-anchor="middle" textLength="42" lengthAdjust="spacingAndGlyphs">0.8</text>
<text x="735" y="1639.7" font-size="38" text-anchor="middle" textLength="78" lengthAdjust="spacingAndGlyphs">AUC</text>
<rect x="425.5" y="761.2" width="1.2" height="1" fill="#999"/>
</svg>
</body></html>
